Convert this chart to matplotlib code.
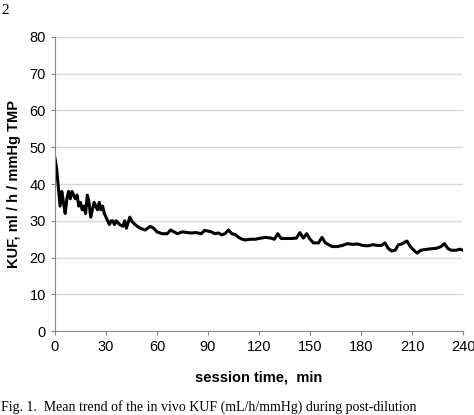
import matplotlib
matplotlib.use('Agg')
import matplotlib.pyplot as plt

# session time (min) and mean KUF (ml/h/mmHg TMP)
t = [0, 1, 2, 3, 4, 5, 6, 7, 8, 9, 10, 11, 12, 13, 14, 15, 16, 17, 18, 19, 20,
     21, 22, 23, 24, 25, 26, 27, 28, 29, 30, 32, 33, 34, 35, 36, 38, 40, 41, 42,
     44, 45, 47, 50, 53, 56, 58, 60, 63, 66, 68, 70, 72, 75, 78, 80, 83, 86, 88,
     90, 92, 94, 96, 98, 100, 102, 104, 106, 108, 110, 112, 115, 118, 121, 124,
     127, 129, 131, 133, 136, 139, 142, 144, 146, 148, 150, 152, 155, 157, 159,
     161, 163, 166, 169, 172, 175, 178, 181, 184, 187, 190, 192, 194, 196, 198,
     200, 202, 204, 206, 207, 209, 211, 213, 215, 218, 221, 224, 227, 229, 231,
     233, 236, 238, 240]
kuf = [47, 44, 39, 34, 38, 35, 32, 36, 38, 36, 38, 37, 36, 37, 34, 35, 33, 34, 32,
       37, 35, 31, 33, 35, 34, 33, 35, 33, 34, 32, 31, 29, 30, 30, 29, 30, 29,
       28.5, 30, 28, 31, 30, 29, 28, 27.5, 28.5, 28, 27, 26.5, 26.5, 27.5, 27,
       26.5, 27, 26.8, 26.7, 26.8, 26.5, 27.4, 27.2, 27, 26.5, 26.7, 26.2, 26.5,
       27.5, 26.5, 26.3, 25.5, 25, 24.8, 25, 25, 25.3, 25.5, 25.3, 25, 26.5, 25.2,
       25.2, 25.2, 25.3, 26.8, 25.3, 26.5, 25, 24, 24, 25.5, 24, 23.5, 23, 23,
       23.3, 23.8, 23.6, 23.7, 23.3, 23.2, 23.5, 23.3, 23.3, 24, 22.5, 21.8, 22,
       23.5, 23.7, 24.3, 24.5, 23, 22, 21.2, 22, 22.2, 22.4, 22.5, 23, 23.8,
       22.5, 22, 22, 22.3, 22]

plt.rcParams['font.family'] = ['Liberation Sans', 'DejaVu Sans']

fig = plt.figure(figsize=(4.74, 4.15), dpi=100)
ax = fig.add_axes([0.116, 0.202, 0.861, 0.709])
ax.plot(t, kuf, color='black', lw=2.2)
ax.set_xlim(0, 240)
ax.set_ylim(0, 80)
ax.set_xticks(range(0, 241, 30))
ax.set_yticks(range(0, 81, 10))
ax.yaxis.grid(True, color='#d8d8d8', lw=1)
ax.set_axisbelow(True)
for s in ['top', 'right']:
    ax.spines[s].set_visible(False)
for s in ['left', 'bottom']:
    ax.spines[s].set_color('#888888')
ax.tick_params(labelsize=10.5, length=3, color='#888888')
ax.set_xlabel('session time,  min', fontsize=10.5, fontweight='bold', labelpad=12)
ax.set_ylabel('KUF, ml / h / mmHg TMP', fontsize=10.5, fontweight='bold', labelpad=6)

fig.text(0.002, 0.99, '2', fontsize=11, family='Liberation Serif', va='top')
fig.text(0.002, 0.003, 'Fig. 1.  Mean trend of the in vivo KUF (mL/h/mmHg) during post-dilution',
         fontsize=10, family='Liberation Serif', va='bottom')

fig.savefig('out.png', dpi=100, facecolor='white')
